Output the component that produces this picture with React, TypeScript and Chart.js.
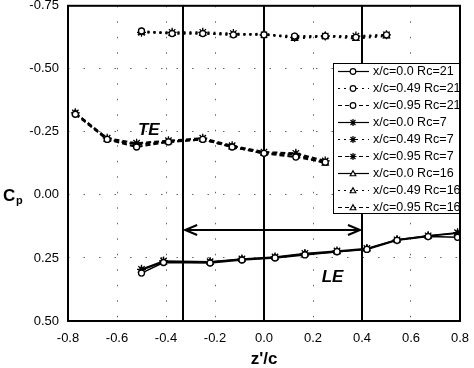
import React, { useEffect, useRef } from "react";
import { Chart, registerables } from "chart.js";

Chart.register(...registerables);

// ---- data ----
const zLE = [-0.5, -0.41, -0.22, -0.09, 0.045, 0.167, 0.298, 0.42, 0.543, 0.67, 0.79];
const zMid = [-0.5, -0.375, -0.25, -0.125, 0, 0.125, 0.25, 0.375, 0.5];
const zTE = [-0.77, -0.64, -0.52, -0.39, -0.25, -0.13, 0, 0.13, 0.25];

const cp00_Rc21 = [0.31, 0.268, 0.27, 0.258, 0.25, 0.238, 0.225, 0.216, 0.18, 0.165, 0.168];
const cp00_Rc7 = [0.295, 0.262, 0.265, 0.254, 0.246, 0.232, 0.222, 0.212, 0.178, 0.162, 0.15];
const cp00_Rc16 = [0.298, 0.266, 0.266, 0.256, 0.248, 0.234, 0.226, 0.214, 0.178, 0.163, 0.152];

const cp49_Rc21 = [-0.65, -0.64, -0.64, -0.635, -0.635, -0.63, -0.63, -0.625, -0.635];
const cp49_Rc7 = [-0.645, -0.645, -0.645, -0.64, -0.635, -0.625, -0.63, -0.63, -0.635];
const cp49_Rc16 = [-0.645, -0.64, -0.64, -0.635, -0.64, -0.62, -0.63, -0.62, -0.63];

const cp95_Rc21 = [-0.32, -0.22, -0.19, -0.21, -0.22, -0.19, -0.165, -0.15, -0.13];
const cp95_Rc7 = [-0.325, -0.225, -0.205, -0.215, -0.225, -0.195, -0.17, -0.165, -0.135];
const cp95_Rc16 = [-0.325, -0.22, -0.2, -0.21, -0.22, -0.19, -0.165, -0.16, -0.125];

const seriesLabels = [
  "x/c=0.0 Rc=21",
  "x/c=0.49 Rc=21",
  "x/c=0.95 Rc=21",
  "x/c=0.0 Rc=7",
  "x/c=0.49 Rc=7",
  "x/c=0.95 Rc=7",
  "x/c=0.0 Rc=16",
  "x/c=0.49 Rc=16",
  "x/c=0.95 Rc=16",
];

const verticalLines = [-0.33, 0, 0.4];
const arrowFrom = -0.33;
const arrowTo = 0.4;
const arrowCp = 0.14;
const teLabel = { text: "TE", z: -0.47, cp: -0.255 };
const leLabel = { text: "LE", z: 0.28, cp: 0.325 };

const FONT = "'Liberation Sans', Arial, sans-serif";

function pts(xs: number[], ys: number[]) {
  return xs.map((x, i) => ({ x, y: ys[i] }));
}

const lineStyles: Record<string, { dash: number[]; width: number }> = {
  "0.0": { dash: [], width: 1.5 },
  "0.49": { dash: [2, 4], width: 2 },
  "0.95": { dash: [5, 3], width: 2 },
};
const markerStyles: Record<string, { style: string; radius: number }> = {
  "21": { style: "circle", radius: 3 },
  "7": { style: "star", radius: 4.5 },
  "16": { style: "triangle", radius: 3.5 },
};

function drawMarker(ctx: CanvasRenderingContext2D, style: string, x: number, y: number, r: number) {
  ctx.save();
  ctx.setLineDash([]);
  ctx.lineWidth = 1.2;
  ctx.strokeStyle = "#000";
  ctx.fillStyle = "#fff";
  ctx.beginPath();
  if (style === "circle") {
    ctx.arc(x, y, r, 0, Math.PI * 2);
    ctx.fill();
    ctx.stroke();
  } else if (style === "triangle") {
    ctx.moveTo(x, y - r);
    ctx.lineTo(x + r, y + r * 0.8);
    ctx.lineTo(x - r, y + r * 0.8);
    ctx.closePath();
    ctx.fill();
    ctx.stroke();
  } else {
    for (let k = 0; k < 4; k++) {
      const a = (k * Math.PI) / 4;
      ctx.moveTo(x - Math.cos(a) * r, y - Math.sin(a) * r);
      ctx.lineTo(x + Math.cos(a) * r, y + Math.sin(a) * r);
    }
    ctx.stroke();
  }
  ctx.restore();
}

const overlay = {
  id: "overlay",
  beforeDatasetsDraw(chart: any) {
    const { ctx, chartArea } = chart;
    const xs = chart.scales.x;
    const ys = chart.scales.y;
    ctx.save();
    ctx.strokeStyle = "#000";
    ctx.lineWidth = 2;
    verticalLines.forEach((v) => {
      const px = Math.round(xs.getPixelForValue(v));
      ctx.beginPath();
      ctx.moveTo(px, chartArea.top);
      ctx.lineTo(px, chartArea.bottom);
      ctx.stroke();
    });
    // double arrow
    const x1 = xs.getPixelForValue(arrowFrom) + 2;
    const x2 = xs.getPixelForValue(arrowTo) - 2;
    const y = Math.round(ys.getPixelForValue(arrowCp));
    ctx.lineWidth = 2;
    ctx.beginPath();
    ctx.moveTo(x1, y);
    ctx.lineTo(x2, y);
    ctx.moveTo(x1 + 12, y - 5);
    ctx.lineTo(x1, y);
    ctx.lineTo(x1 + 12, y + 5);
    ctx.moveTo(x2 - 12, y - 5);
    ctx.lineTo(x2, y);
    ctx.lineTo(x2 - 12, y + 5);
    ctx.stroke();
    ctx.restore();
  },
  afterDraw(chart: any) {
    const { ctx, chartArea } = chart;
    const xs = chart.scales.x;
    const ys = chart.scales.y;
    ctx.save();
    // frame
    ctx.strokeStyle = "#000";
    ctx.lineWidth = 2;
    ctx.setLineDash([]);
    ctx.strokeRect(chartArea.left, chartArea.top, chartArea.right - chartArea.left, chartArea.bottom - chartArea.top);

    // TE / LE labels
    ctx.fillStyle = "#000";
    ctx.font = `italic bold 17px ${FONT}`;
    ctx.textAlign = "center";
    ctx.textBaseline = "middle";
    ctx.fillText(teLabel.text, xs.getPixelForValue(teLabel.z), ys.getPixelForValue(teLabel.cp));
    ctx.fillText(leLabel.text, xs.getPixelForValue(leLabel.z), ys.getPixelForValue(leLabel.cp));

    // axis titles
    ctx.font = `bold 17px ${FONT}`;
    ctx.fillText("z'/c", (chartArea.left + chartArea.right) / 2, 359);
    ctx.textAlign = "left";
    ctx.fillText("C", 3, 196);
    ctx.font = `bold 11px ${FONT}`;
    ctx.fillText("p", 16, 201);

    // legend
    const lx = 333;
    const ly = 63;
    const lw = chartArea.right - lx;
    const lh = 151;
    ctx.fillStyle = "#fff";
    ctx.fillRect(lx, ly, lw, lh);
    ctx.strokeStyle = "#000";
    ctx.lineWidth = 1;
    ctx.strokeRect(lx + 0.5, ly + 0.5, lw - 1, lh - 1);
    ctx.font = `12.5px ${FONT}`;
    ctx.textAlign = "left";
    ctx.textBaseline = "middle";
    chart.data.datasets.forEach((ds: any, i: number) => {
      const yy = ly + 8.5 + i * 17;
      const ls = lineStyles[ds.xc];
      ctx.strokeStyle = "#000";
      ctx.lineWidth = 1.2;
      ctx.setLineDash(ls.dash.length ? (ds.xc === "0.49" ? [2, 4] : [4, 3]) : []);
      ctx.beginPath();
      ctx.moveTo(lx + 5, yy);
      ctx.lineTo(lx + 36, yy);
      ctx.stroke();
      ctx.setLineDash([]);
      const ms = markerStyles[ds.rc];
      drawMarker(ctx, ms.style, lx + 20, yy, ms.style === "star" ? 3.5 : 2.8);
      ctx.fillStyle = "#000";
      ctx.fillText(ds.label, lx + 40, yy + 0.5);
    });
    ctx.restore();
  },
};

function makeDataset(label: string, xs: number[], ys: number[], xc: string, rc: string) {
  const ls = lineStyles[xc];
  const ms = markerStyles[rc];
  return {
    label,
    xc,
    rc,
    data: pts(xs, ys),
    borderColor: "#000",
    borderWidth: ls.width,
    borderDash: ls.dash,
    backgroundColor: "#fff",
    pointStyle: ms.style,
    pointRadius: ms.radius,
    pointBorderWidth: 1.3,
    pointBorderColor: "#000",
    pointBackgroundColor: "#fff",
    showLine: true,
    tension: 0,
    fill: false,
  };
}

export default function App() {
  const ref = useRef<HTMLCanvasElement | null>(null);
  useEffect(() => {
    document.body.style.margin = "0";
    const canvas = ref.current;
    if (!canvas) return;
    const datasets = [
      makeDataset(seriesLabels[0], zLE, cp00_Rc21, "0.0", "21"),
      makeDataset(seriesLabels[1], zMid, cp49_Rc21, "0.49", "21"),
      makeDataset(seriesLabels[2], zTE, cp95_Rc21, "0.95", "21"),
      makeDataset(seriesLabels[3], zLE, cp00_Rc7, "0.0", "7"),
      makeDataset(seriesLabels[4], zMid, cp49_Rc7, "0.49", "7"),
      makeDataset(seriesLabels[5], zTE, cp95_Rc7, "0.95", "7"),
      makeDataset(seriesLabels[6], zLE, cp00_Rc16, "0.0", "16"),
      makeDataset(seriesLabels[7], zMid, cp49_Rc16, "0.49", "16"),
      makeDataset(seriesLabels[8], zTE, cp95_Rc16, "0.95", "16"),
    ];
    const fmt = (v: number, d: number) => {
      let r = Math.round(v * 100) / 100;
      if (Object.is(r, -0)) r = 0;
      return r.toFixed(d);
    };
    const chart = new Chart(canvas, {
      type: "line",
      data: { datasets: datasets as any },
      options: {
        animation: false,
        responsive: false,
        devicePixelRatio: 1,
        layout: { padding: { top: 5, right: 14, left: 0, bottom: 0 } },
        plugins: { legend: { display: false }, tooltip: { enabled: false } },
        scales: {
          x: {
            type: "linear",
            min: -0.8,
            max: 0.8,
            ticks: {
              stepSize: 0.2,
              color: "#000",
              font: { family: FONT, size: 13 },
              padding: 10,
              maxRotation: 0,
              callback: (v: any) => fmt(Number(v), 1),
            },
            grid: { color: "#666", lineWidth: 1, drawTicks: false },
            border: { display: false, dash: [1.5, 14] },
            afterFit: (s: any) => {
              s.height = 47;
              s.paddingLeft = 0;
              s.paddingRight = 0;
            },
          },
          y: {
            type: "linear",
            reverse: true,
            min: -0.75,
            max: 0.5,
            ticks: {
              stepSize: 0.25,
              color: "#000",
              font: { family: FONT, size: 13 },
              padding: 9,
              callback: (v: any) => fmt(Number(v), 2),
            },
            grid: { color: "#666", lineWidth: 1, drawTicks: false },
            border: { display: false, dash: [1.5, 14] },
            afterFit: (s: any) => {
              s.width = 68;
              s.paddingTop = 0;
              s.paddingBottom = 0;
            },
          },
        },
      } as any,
      plugins: [overlay],
    });
    return () => chart.destroy();
  }, []);
  return (
    <div style={{ width: 474, height: 368 }}>
      <canvas ref={ref} width={474} height={368} />
    </div>
  );
}
